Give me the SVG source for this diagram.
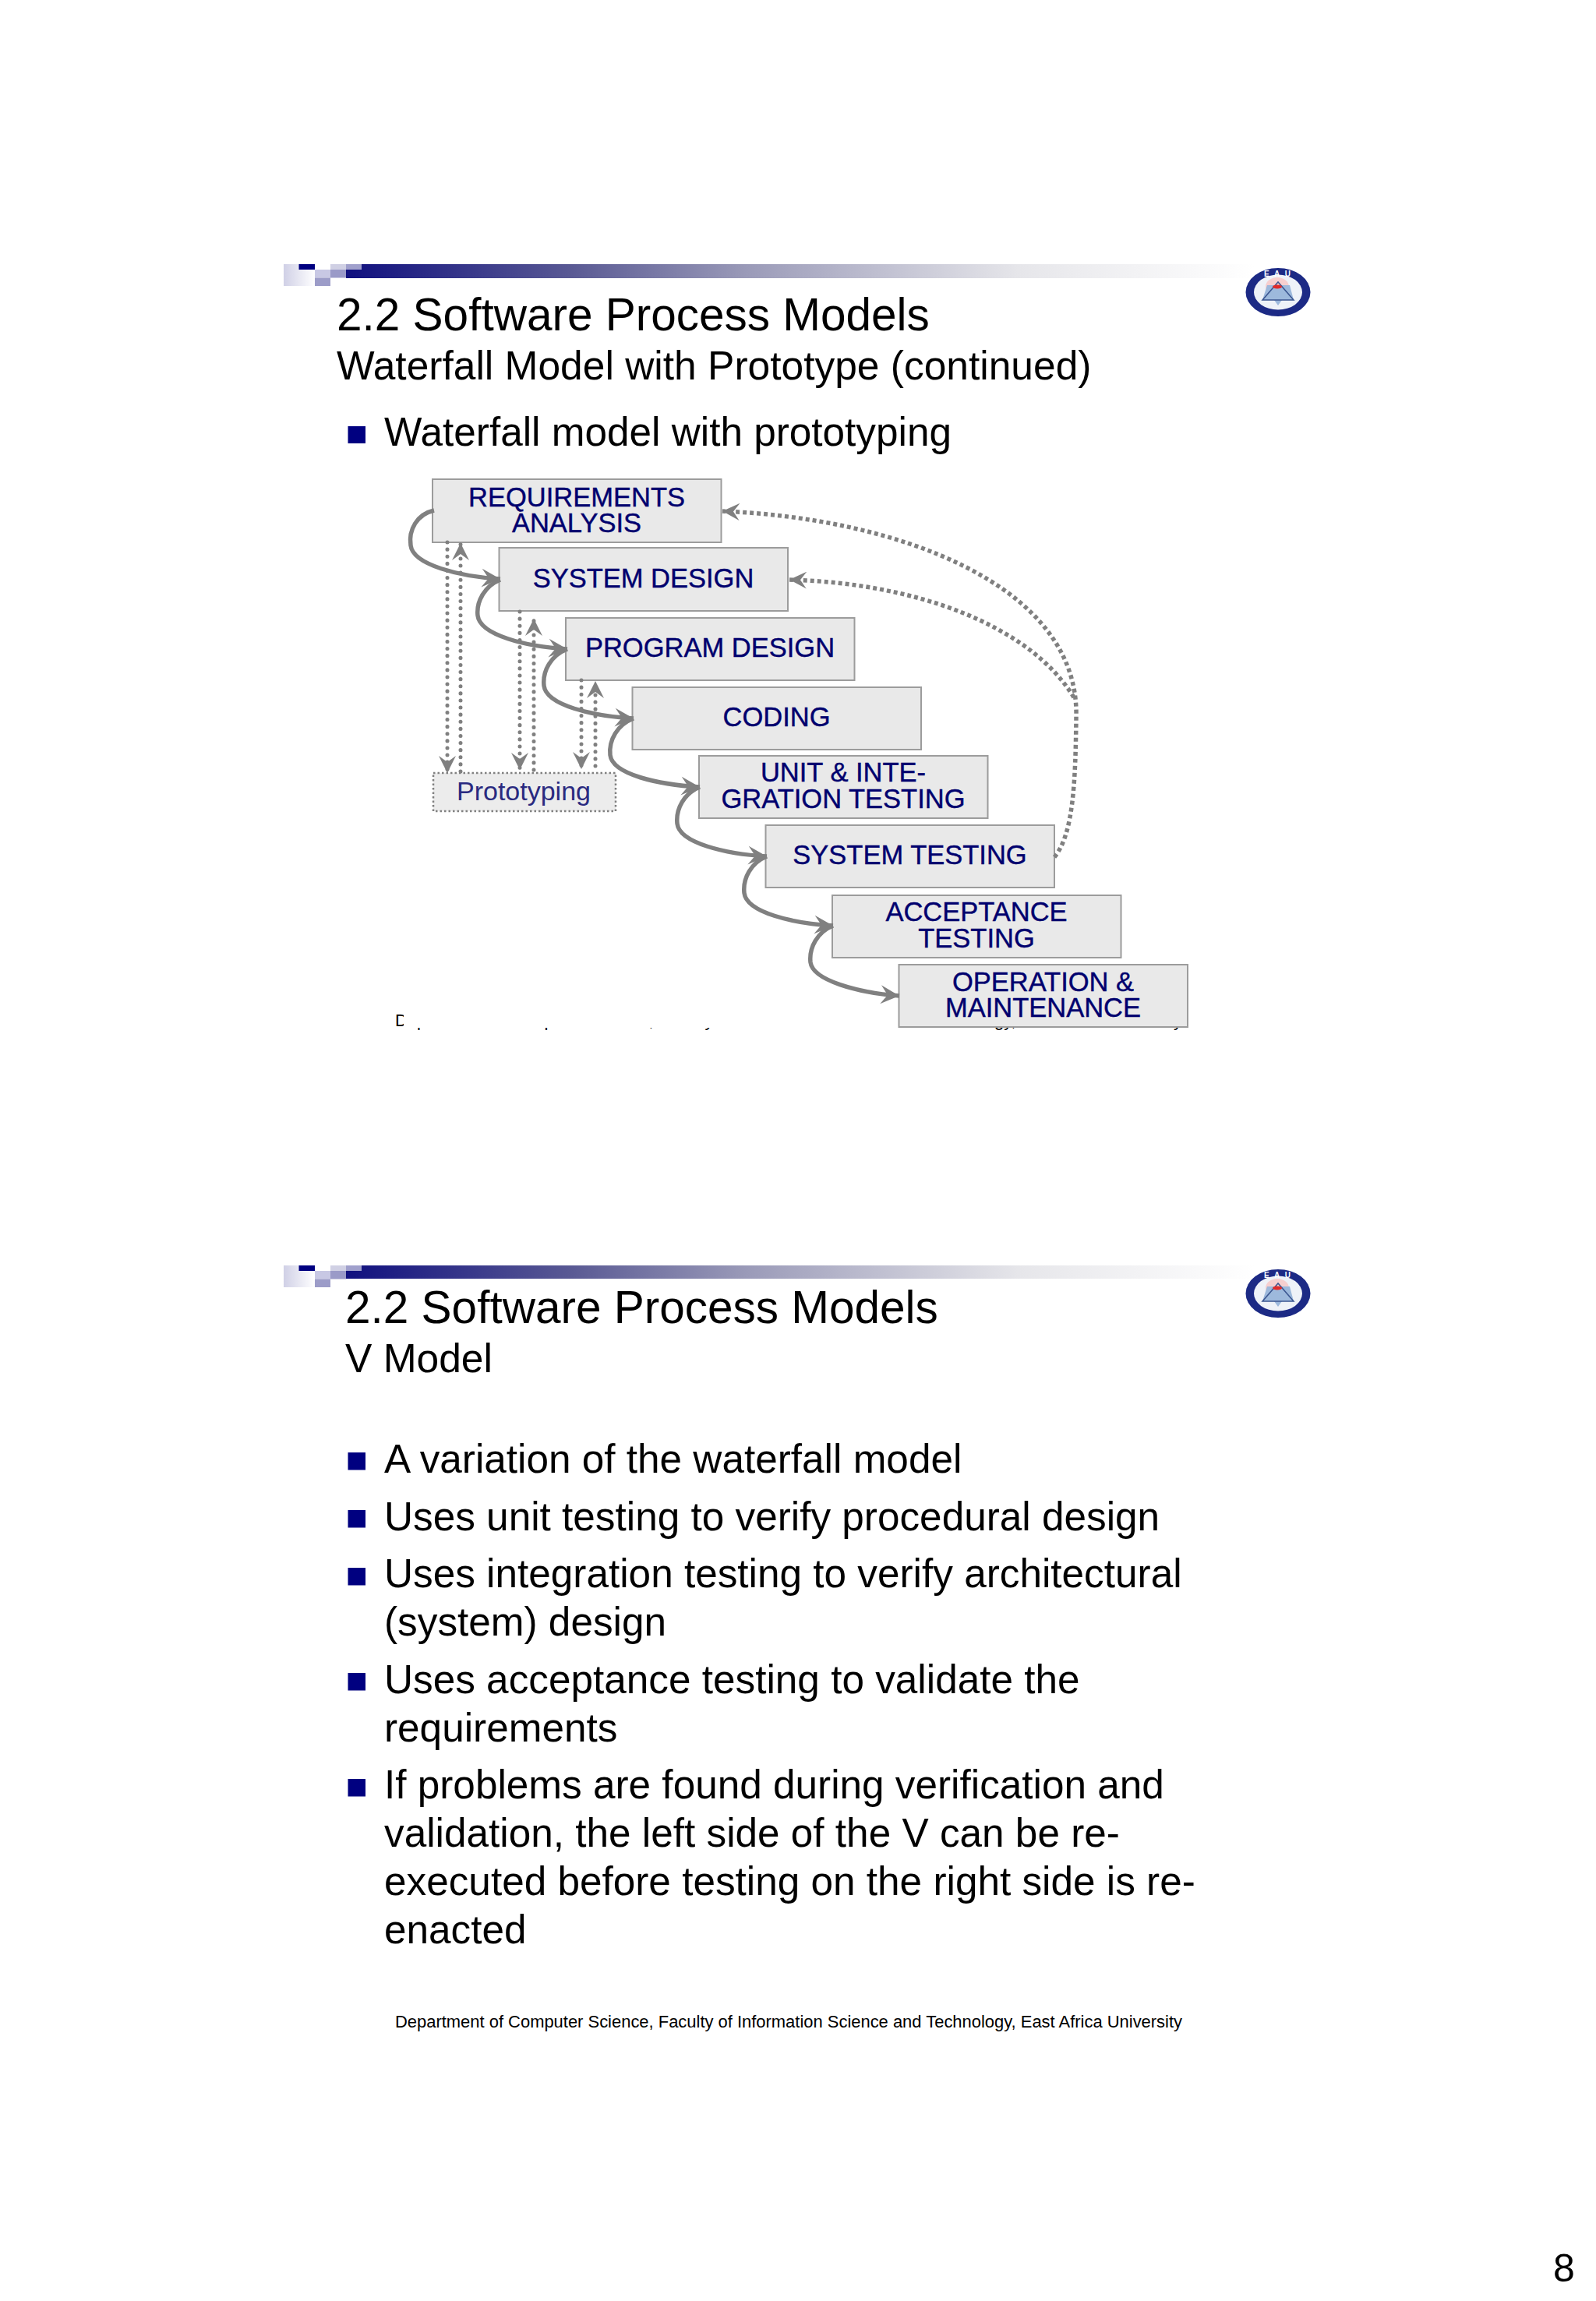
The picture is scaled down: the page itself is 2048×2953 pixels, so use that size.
<svg xmlns="http://www.w3.org/2000/svg" xmlns:xlink="http://www.w3.org/1999/xlink" width="2048" height="2953" viewBox="0 0 2048 2953">
<style>
text{font-family:"Liberation Sans",Arial,sans-serif;fill:#000}
.title{font-size:58.500px}
.sub{font-size:51.500px}
.body{font-size:51.300px}
.foot{font-size:21.950px}
.box{fill:#e9e9e9;stroke:#9c9c9c;stroke-width:2}
.lbl{font-size:34.500px;fill:#00006e;text-anchor:middle;stroke:#00006e;stroke-width:0.4}
.flow{fill:none;stroke:#808080;stroke-width:5.500;marker-end:url(#solidHead)}
.fb{fill:none;stroke:#808080;stroke-width:5.500;stroke-dasharray:5 4;marker-end:url(#openHead)}
.vd{fill:none;stroke:#808080;stroke-width:5;stroke-linecap:round;stroke-dasharray:0.1 9;marker-end:url(#openHead)}
.bul{fill:#000080}
</style>
<defs>
<linearGradient id="barG" gradientUnits="userSpaceOnUse" x1="444" y1="0" x2="1610" y2="0">
<stop offset="0" stop-color="#10107f"/><stop offset="0.25" stop-color="#5a5a94"/><stop offset="0.44" stop-color="#9a9ab8"/><stop offset="0.74" stop-color="#e6e6ea"/><stop offset="1" stop-color="#fff"/>
</linearGradient>
<linearGradient id="fadeG" x1="0" y1="0" x2="1" y2="0"><stop offset="0" stop-color="#d0d0e6"/><stop offset="1" stop-color="#fff"/></linearGradient>
<filter id="soft" x="-10%" y="-10%" width="120%" height="120%"><feGaussianBlur stdDeviation="0.7"/></filter>
<marker id="solidHead" markerUnits="userSpaceOnUse" viewBox="0 0 26 26" refX="26" refY="13" markerWidth="26" markerHeight="26" orient="auto"><path d="M26 13L2 1L11 13L2 25Z" fill="#808080"/></marker>
<marker id="openHead" markerUnits="userSpaceOnUse" viewBox="0 0 22 22" refX="22" refY="11" markerWidth="22" markerHeight="22" orient="auto"><path d="M22 11L0 0L8 11L0 22Z" fill="#808080"/></marker>
<clipPath id="footClip"><rect x="500" y="1295" width="18" height="27"/><rect x="500" y="1319" width="1030" height="4"/></clipPath>
<g id="deco">
<rect x="364" y="0" width="40" height="28" fill="url(#fadeG)"/>
<rect x="383.500" y="0" width="20.500" height="7" fill="#000080"/>
<rect x="404" y="7" width="20" height="10.500" fill="#c8c8e4"/>
<rect x="404" y="17.500" width="20" height="10.500" fill="#9c9cc8"/>
<rect x="424" y="0" width="20" height="7" fill="#d0d0e4"/>
<rect x="424" y="7" width="20" height="10.500" fill="#9a9ac8"/>
<rect x="444" y="0" width="20" height="7" fill="#a0a0cc"/>
</g>
<g id="logo">
<g filter="url(#soft)">
<ellipse cx="0" cy="0" rx="41.500" ry="31" fill="#1d2a85"/>
<ellipse cx="0" cy="0" rx="31" ry="22.500" fill="#eef2f8"/>
<ellipse cx="-1" cy="-7" rx="15" ry="12" fill="#f6cfcf"/>
<path d="M-20 10L-14 -9L15 -9L20 10L5 10L0 17L-5 10Z" fill="#9db9dc"/>
<path d="M-20 10L0 -13L20 10Z" fill="none" stroke="#3a5590" stroke-width="1.500"/>
<ellipse cx="-1" cy="-7" rx="6" ry="2.500" fill="#e02c2c"/>
</g>
<text x="0" y="-20" font-size="10" font-weight="bold" text-anchor="middle" style="fill:#fff" letter-spacing="2">E A U</text>
</g>
</defs>
<rect width="2048" height="2953" fill="#fff"/>

<g id="slide1-header">
<rect x="444" y="346" width="1166" height="11" fill="url(#barG)"/>
<rect x="464" y="339" width="1146" height="7" fill="url(#barG)"/>
<use href="#deco" x="0" y="339"/>
<use href="#logo" x="1640" y="375"/>
</g>
<text class="title" x="432" y="424">2.2 Software Process Models</text>
<text class="sub" x="432" y="487">Waterfall Model with Prototype (continued)</text>
<rect class="bul" x="446.500" y="547" width="22.500" height="22"/>
<text class="body" x="493" y="572">Waterfall model with prototyping</text>
<text class="foot" x="507" y="1317" clip-path="url(#footClip)">Department of Computer Science, Faculty of Information Science and Technology, East Africa University</text>

<g id="n-requirements"><rect class="box" x="555" y="615" width="370.500" height="81"/><text class="lbl" x="740" y="650">REQUIREMENTS</text><text class="lbl" x="740" y="683">ANALYSIS</text></g>
<g id="n-system-design"><rect class="box" x="640.500" y="703" width="370.500" height="81"/><text class="lbl" x="825.500" y="754">SYSTEM DESIGN</text></g>
<g id="n-program-design"><rect class="box" x="726" y="793" width="370.500" height="80"/><text class="lbl" x="911" y="843">PROGRAM DESIGN</text></g>
<g id="n-coding"><rect class="box" x="811.500" y="882" width="370.500" height="80"/><text class="lbl" x="996.500" y="931.500">CODING</text></g>
<g id="n-unit"><rect class="box" x="897" y="970" width="370.500" height="80"/><text class="lbl" x="1082" y="1003">UNIT &amp; INTE-</text><text class="lbl" x="1082" y="1036.500">GRATION TESTING</text></g>
<g id="n-system-testing"><rect class="box" x="982.500" y="1059" width="370.500" height="80"/><text class="lbl" x="1167.500" y="1109">SYSTEM TESTING</text></g>
<g id="n-acceptance"><rect class="box" x="1068" y="1149" width="370.500" height="80"/><text class="lbl" x="1253" y="1182">ACCEPTANCE</text><text class="lbl" x="1253" y="1215.500">TESTING</text></g>
<g id="n-operation"><rect class="box" x="1153.500" y="1238" width="370.500" height="80"/><text class="lbl" x="1338.500" y="1271.500">OPERATION &amp;</text><text class="lbl" x="1338.500" y="1305">MAINTENANCE</text></g>
<g id="n-prototyping"><rect x="556" y="992" width="234" height="49" fill="#ececec" stroke="#808080" stroke-width="2.500" stroke-dasharray="2.500 3"/><text x="672" y="1027" font-size="34" text-anchor="middle" style="fill:#2a2a80">Prototyping</text></g>

<g id="connectors">
<path class="flow" d="M557 655C535 660 524 680 527 700C530 725 590 740 642 743"/>
<path class="flow" d="M642 744C622 752 611 772 613 790C616 815 675 830 728 833"/>
<path class="flow" d="M728 833C707 841 696 861 698 880C701 905 760 919 813 922"/>
<path class="flow" d="M813 922C792 930 781 950 783 969C786 994 845 1007 898 1010"/>
<path class="flow" d="M898 1010C878 1018 867 1038 869 1057C872 1082 931 1096 984 1099"/>
<path class="flow" d="M984 1099C964 1107 953 1127 955 1146C958 1171 1017 1185 1069 1188"/>
<path class="flow" d="M1069 1188C1049 1196 1038 1216 1040 1235C1043 1258 1100 1274 1154 1278"/>
<path class="fb" d="M1353 1100C1378 1070 1380 1000 1381 920C1385 750 1150 665 927 656"/>
<path class="fb" d="M1378 895C1320 800 1170 748 1013 744"/>
<path class="vd" d="M574 696V992"/>
<path class="vd" d="M591 990V697"/>
<path class="vd" d="M667 785V988"/>
<path class="vd" d="M685 988V794"/>
<path class="vd" d="M746 873V987"/>
<path class="vd" d="M764 983V874"/>
</g>

<g id="slide2-header">
<rect x="444" y="1631" width="1166" height="10" fill="url(#barG)"/>
<rect x="464" y="1624" width="1146" height="7" fill="url(#barG)"/>
<use href="#deco" x="0" y="1624"/>
<use href="#logo" x="1640" y="1660"/>
</g>
<text class="title" x="443" y="1698">2.2 Software Process Models</text>
<text class="sub" x="443" y="1761">V Model</text>
<rect class="bul" x="446.500" y="1864" width="22.500" height="22.500"/>
<text class="body" x="493" y="1890">A variation of the waterfall model</text>
<rect class="bul" x="446.500" y="1938" width="22.500" height="22.500"/>
<text class="body" x="493" y="1963.500">Uses unit testing to verify procedural design</text>
<rect class="bul" x="446.500" y="2012" width="22.500" height="22.500"/>
<text class="body" x="493" y="2037">Uses integration testing to verify architectural</text>
<text class="body" x="493" y="2099">(system) design</text>
<rect class="bul" x="446.500" y="2147" width="22.500" height="22.500"/>
<text class="body" x="493" y="2172.500">Uses acceptance testing to validate the</text>
<text class="body" x="493" y="2234.500">requirements</text>
<rect class="bul" x="446.500" y="2283" width="22.500" height="22.500"/>
<text class="body" x="493" y="2308">If problems are found during verification and</text>
<text class="body" x="493" y="2370">validation, the left side of the V can be re-</text>
<text class="body" x="493" y="2432">executed before testing on the right side is re-</text>
<text class="body" x="493" y="2494">enacted</text>
<text class="foot" x="507" y="2602">Department of Computer Science, Faculty of Information Science and Technology, East Africa University</text>
<text x="1993" y="2928" font-size="50">8</text>
</svg>
